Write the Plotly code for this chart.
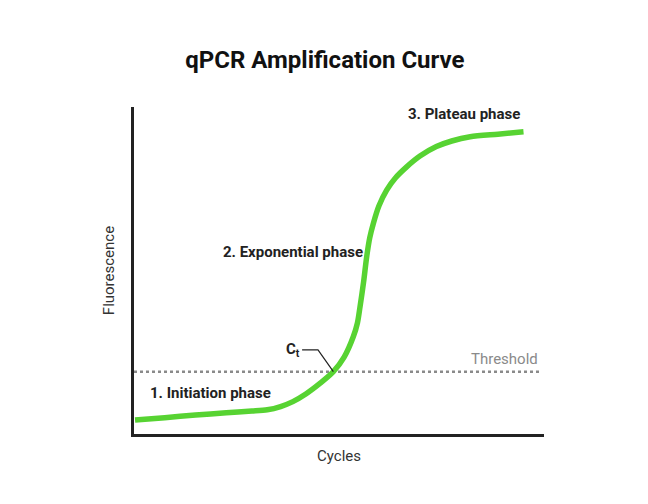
import plotly.graph_objects as go

# Amplification curve (cycle, fluorescence %)
cycles = [0.1, 3.0, 6.0, 9.0, 11.5, 13.0, 14.3, 15.5, 16.8, 18.2, 19.45, 20.5, 21.4, 21.8, 22.05, 22.4, 22.7,
          23.0, 23.35, 23.9, 24.65, 25.5, 26.6, 27.9, 29.5, 31.0, 32.8, 35.5, 38.0]
fluorescence = [4.3, 5.0, 5.8, 6.5, 7.0, 7.4, 8.4, 9.9, 12.3, 15.6, 19.05, 23.5, 29.8, 34.0, 38.9, 46.5, 54.2,
                60.0, 64.4, 69.8, 74.6, 78.3, 81.7, 85.0, 87.9, 89.6, 90.9, 91.7, 92.4]

threshold = 19.05
ct_cycle = 19.45

phase_labels = ["1. Initiation phase", "2. Exponential phase", "3. Plateau phase"]

FONT = "Roboto"
GREEN = "#57d332"
FS = 15

fig = go.Figure()

# threshold line
fig.add_trace(go.Scatter(x=[0, 39.6], y=[threshold, threshold], mode="lines",
                         line=dict(color="#8a8a8a", width=2.5, dash="dot"), hoverinfo="skip"))

# curve
fig.add_trace(go.Scatter(x=cycles, y=fluorescence, mode="lines",
                         line=dict(color=GREEN, width=5.5, shape="spline", smoothing=0.8), hoverinfo="skip"))

# Ct leader line
fig.add_trace(go.Scatter(x=[16.4, 17.95, ct_cycle], y=[25.7, 25.7, threshold], mode="lines",
                         line=dict(color="#222222", width=1.2), hoverinfo="skip"))

ann = [
    dict(x=1.37, y=12.5, text=phase_labels[0], xanchor="left"),
    dict(x=22.55, y=55.7, text=phase_labels[1], xanchor="right"),
    dict(x=32.2, y=97.9, text=phase_labels[2], xanchor="center"),
]
annotations = []
for a in ann:
    annotations.append(dict(x=a["x"], y=a["y"], xref="x", yref="y", text="<b>" + a["text"] + "</b>",
                            showarrow=False, xanchor=a["xanchor"], yanchor="middle",
                            font=dict(family=FONT, size=FS, color="#222222")))
annotations.append(dict(x=15.5, y=25.6, xref="x", yref="y", text="<b>C<sub>t</sub></b>", showarrow=False,
                        xanchor="center", yanchor="middle", font=dict(family=FONT, size=FS, color="#222222")))
annotations.append(dict(x=39.6, y=22.9, xref="x", yref="y", text="Threshold", showarrow=False,
                        xanchor="right", yanchor="middle", font=dict(family=FONT, size=FS, color="#8a8a8a")))

fig.update_layout(
    width=648, height=504,
    margin=dict(l=126, r=112, t=99, b=78),
    paper_bgcolor="white", plot_bgcolor="white",
    showlegend=False,
    title=dict(text="<b>qPCR Amplification Curve</b>", x=0.489, xanchor="center", y=0.897, yanchor="middle",
               xref="container", yref="container", font=dict(family=FONT, size=24, color="#111111")),
    xaxis=dict(range=[0, 40], showgrid=False, zeroline=False, showticklabels=False, ticks="",
               showline=True, linecolor="#222222", linewidth=3,
               title=dict(text="Cycles", standoff=15, font=dict(family=FONT, size=FS, color="#333333"))),
    yaxis=dict(range=[0, 100], showgrid=False, zeroline=False, showticklabels=False, ticks="",
               showline=True, linecolor="#222222", linewidth=3,
               title=dict(text="Fluorescence", standoff=13, font=dict(family=FONT, size=FS, color="#333333"))),
    annotations=annotations,
)

fig.write_html("out.html")
